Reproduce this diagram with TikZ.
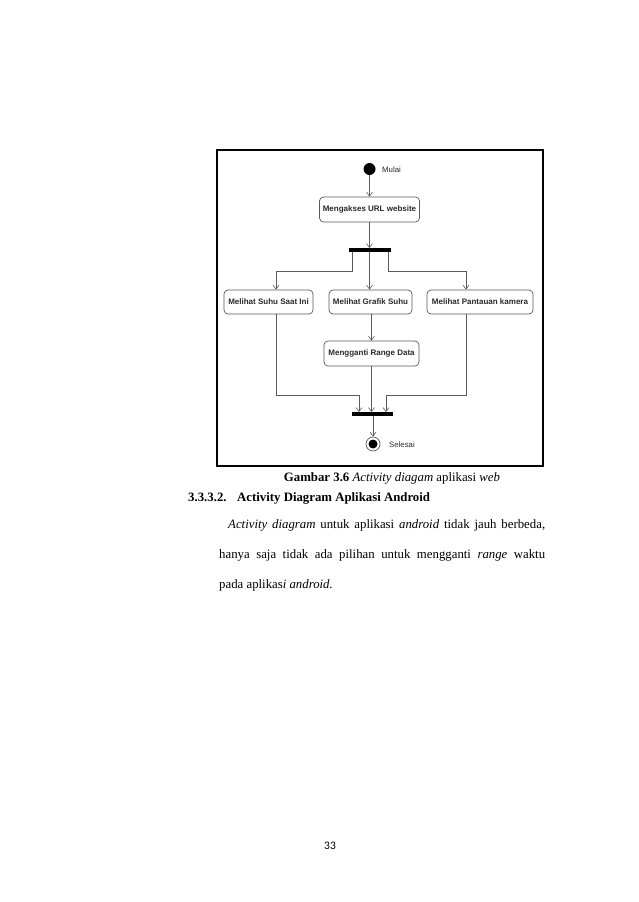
\documentclass[tikz,border=0pt]{standalone}
\usepackage{fontspec}
\setmainfont{Liberation Serif}
\newfontfamily\diafont{Liberation Sans}
\newfontfamily\numfont{Carlito}
\usetikzlibrary{arrows.meta}
\definecolor{lin}{HTML}{5A5A5A}
\definecolor{txt}{HTML}{2A2A2A}
\tikzset{
  act/.style={draw=lin, line width=0.7pt, rounded corners=4pt, fill=white, minimum height=24pt, inner sep=0pt,
    font=\diafont\bfseries\fontsize{8}{9}\selectfont, text=txt},
  bar/.style={fill=black, draw=none, minimum height=3.5pt, inner sep=0pt},
  arr/.style={draw=lin, line width=0.6pt, -{Straight Barb[length=4pt,width=6pt]}},
  lbl/.style={font=\diafont\fontsize{7.8}{9}\selectfont, text=txt, anchor=west, inner sep=0pt},
  para/.style={font=\fontsize{12.8}{15}\selectfont, anchor=base west, inner sep=0pt}
}
\begin{document}
\begin{tikzpicture}[x=1pt,y=-1pt]
\useasboundingbox (0,0) rectangle (638,902);
\fill[white] (0,0) rectangle (638,902);
% frame
\draw[line width=1.1pt, black] (217,150) rectangle (543,466);
% nodes
\node[circle, fill=black, minimum size=12pt, inner sep=0pt] (start) at (369.5,169) {};
\node[lbl] (mulai) at (382,170) {Mulai};
\node[act, minimum width=100pt, minimum height=25pt] (m1) at (369.5,209.5) {Mengakses URL website};
\node[bar, minimum width=42pt] (fork) at (370,250) {};
\node[act, minimum width=89pt] (b1) at (268.5,302) {Melihat Suhu Saat Ini};
\node[act, minimum width=83pt] (b2) at (370.5,302) {Melihat Grafik Suhu};
\node[act, minimum width=106pt] (b3) at (480,302) {Melihat Pantauan kamera};
\node[act, minimum width=95pt, minimum height=25pt] (m2) at (371.5,353.5) {Mengganti Range Data};
\node[bar, minimum width=41pt] (join) at (372.5,414) {};
\node[circle, draw=lin, line width=0.7pt, fill=white, minimum size=14pt, inner sep=0pt] (end) at (373,444) {};
\node[circle, fill=black, minimum size=9pt, inner sep=0pt] (endin) at (end) {};
\node[lbl] (selesai) at (389,445) {Selesai};
% connectors
\draw[arr] (start.south) -- (start.south |- m1.north);
\draw[arr] (m1.south) -- (m1.south |- fork.north);
\draw[arr] ([xshift=3pt]fork.south west) -- ([xshift=3pt]fork.south west |- 0,271) -| ([xshift=7.5pt]b1.north);
\draw[arr] (m1.south |- fork.south) -- (m1.south |- b2.north);
\draw[arr] ([xshift=-3pt]fork.south east) -- ([xshift=-3pt]fork.south east |- 0,271) -| ([xshift=-14pt]b3.north);
\draw[arr] (b2.south -| m2) -- (m2.north);
\draw[arr] ([xshift=7.5pt]b1.south) -- ([xshift=7.5pt]b1.south |- 0,395) -| ([xshift=-13.5pt]join.north);
\draw[arr] (m2.south) -- (m2.south |- join.north);
\draw[arr] ([xshift=-14pt]b3.south) -- ([xshift=-14pt]b3.south |- 0,395) -| ([xshift=13.5pt]join.north);
\draw[arr] (join.south -| end) -- (end.north);
% caption and text
\node[para, anchor=base] (cap) at (392,481) {\textbf{Gambar 3.6} \textit{Activity diagam} aplikasi \textit{web}};
\node[para] (h1) at (188,501.5) {\textbf{3.3.3.2.}};
\node[para] (h2) at (237,501.5) {\textbf{Activity Diagram Aplikasi Android}};
\node[para] (l1) at (228,528.5) {\makebox[317pt][s]{\textit{Activity diagram} untuk aplikasi \textit{android} tidak jauh berbeda,}};
\node[para] (l2) at (219,558.5) {\makebox[326pt][s]{hanya saja tidak ada pilihan untuk mengganti \textit{range} waktu}};
\node[para] (l3) at (219,588.5) {pada aplikas\textit{i android.}};
\node[font=\numfont\fontsize{11.5}{13}\selectfont, anchor=base, inner sep=0pt] (pg) at (330,849) {33};
\end{tikzpicture}
\end{document}
